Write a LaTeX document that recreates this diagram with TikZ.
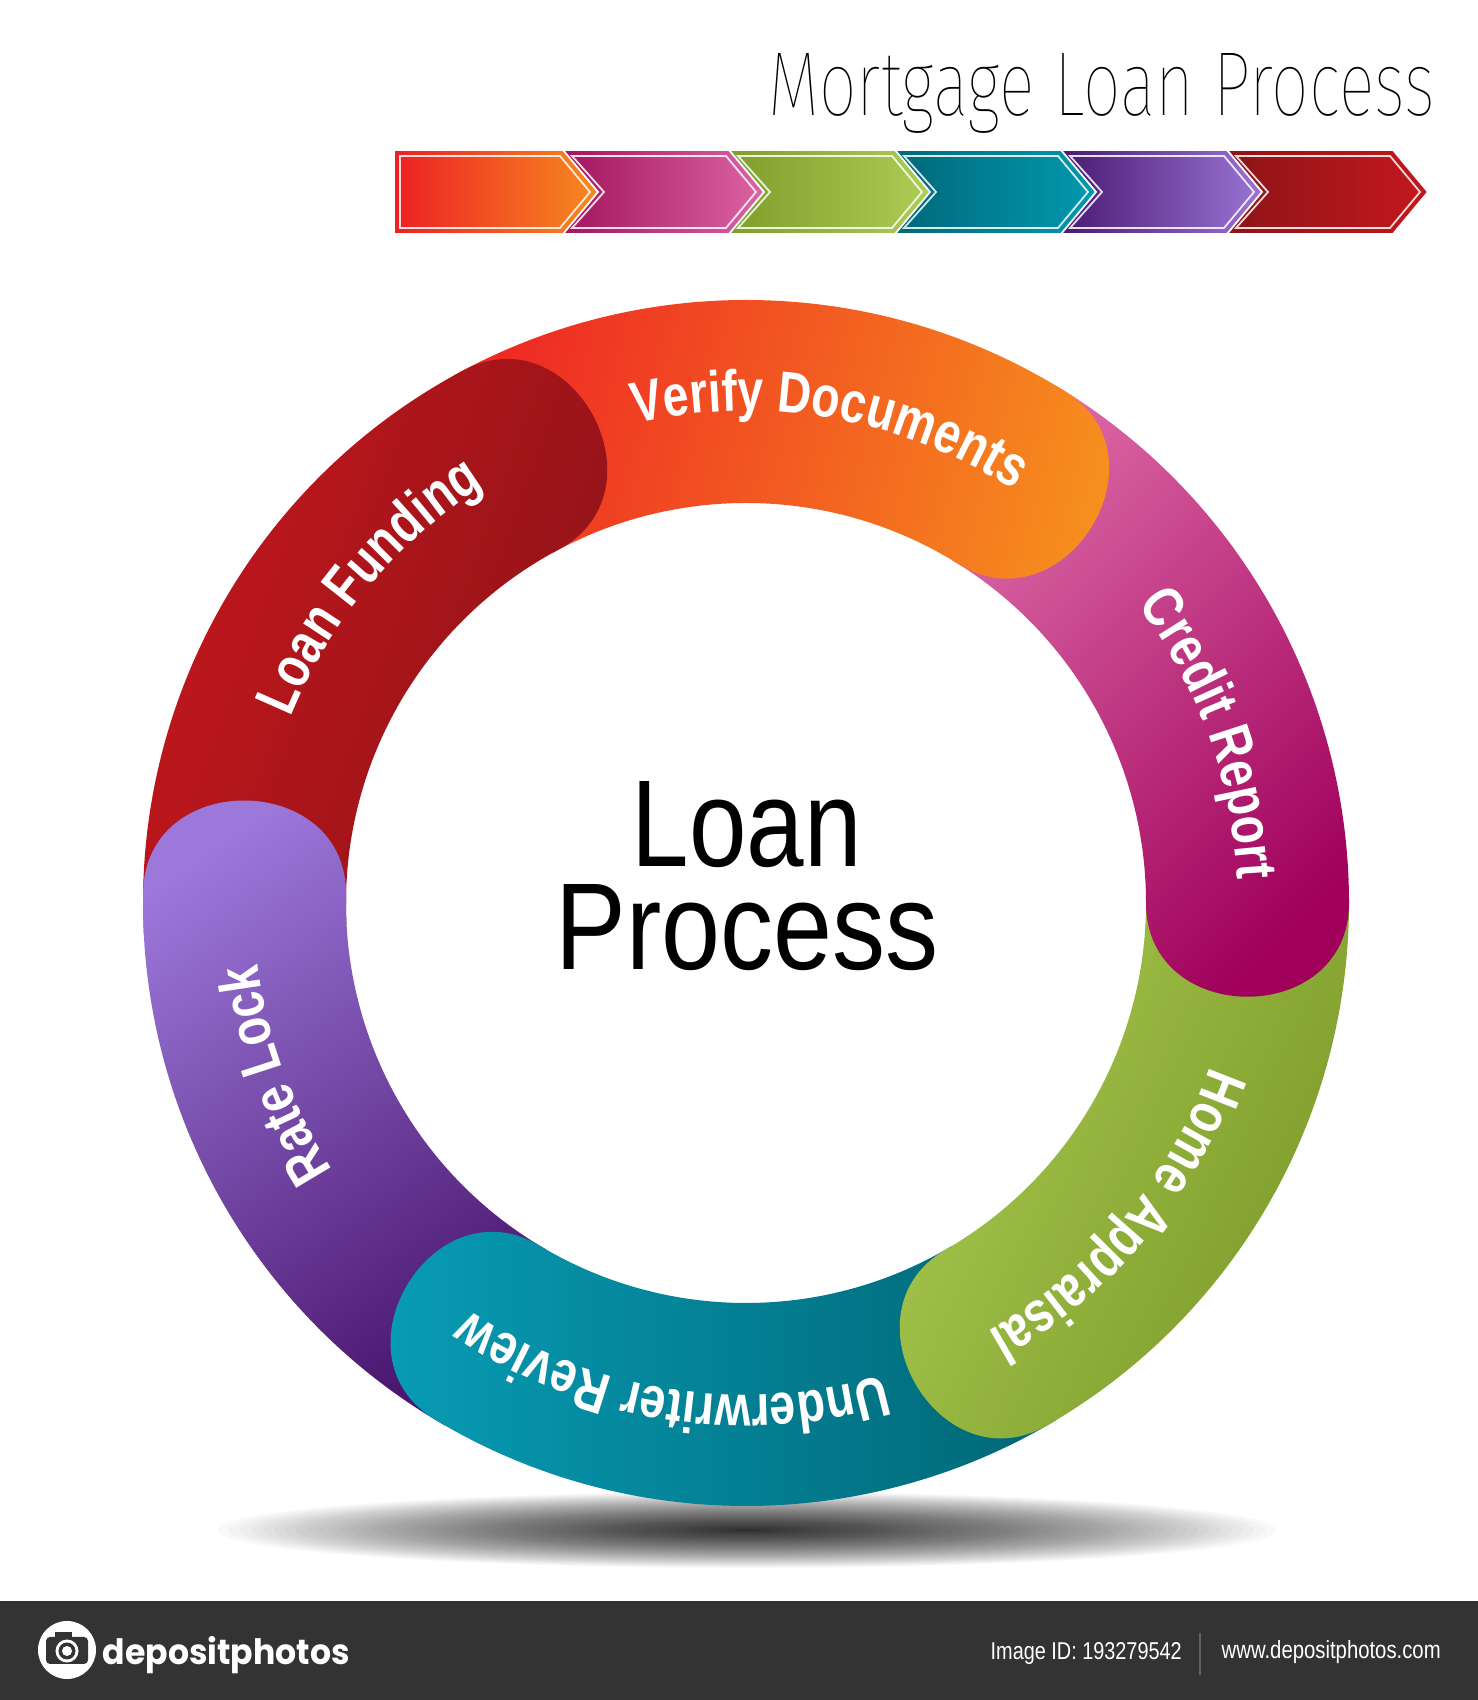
\documentclass[tikz,border=0pt]{standalone}
\usepackage{graphicx}
\usepackage{fontspec}
\setmainfont{Liberation Sans}
\newfontfamily\labfam[FakeStretch=0.8]{Liberation Sans}
\IfFontExistsTF{Fira Sans Thin}{\newfontfamily\thinfam{Fira Sans Thin}}{%
 \IfFontExistsTF{Lato Hairline}{\newfontfamily\thinfam{Lato Hairline}}{%
  \IfFontExistsTF{Fira Sans ExtraLight}{\newfontfamily\thinfam{Fira Sans ExtraLight}}{%
   \IfFontExistsTF{Lato Light}{\newfontfamily\thinfam{Lato Light}}{%
    \IfFontExistsTF{Fira Sans Light}{\newfontfamily\thinfam{Fira Sans Light}}{%
     \newfontfamily\thinfam{Liberation Sans}}}}}}
\newfontfamily\logofam{Poppins}
\usetikzlibrary{calc,decorations.text}
\newcommand\labfont{\labfam\bfseries\fontsize{16.5pt}{20pt}\selectfont}
% colours
\definecolor{barbg}{HTML}{333333}
\definecolor{lfL}{HTML}{C4171D}\definecolor{lfR}{HTML}{8A1317}
\definecolor{vdL}{HTML}{EE2A24}\definecolor{vdR}{HTML}{F7941D}
\definecolor{crL}{HTML}{DA66A5}\definecolor{crR}{HTML}{A0005A}
\definecolor{haL}{HTML}{AACC52}\definecolor{haR}{HTML}{7A9828}
\definecolor{urL}{HTML}{08A0BA}\definecolor{urR}{HTML}{006675}
\definecolor{rlL}{HTML}{9C78DB}\definecolor{rlR}{HTML}{4A166E}
\definecolor{chaL}{HTML}{ED2024}\definecolor{chaR}{HTML}{F68B1F}
\definecolor{chbL}{HTML}{A3145F}\definecolor{chbR}{HTML}{DC64A5}
\definecolor{chcL}{HTML}{7E9D2A}\definecolor{chcR}{HTML}{ADCD55}
\definecolor{chdL}{HTML}{00687A}\definecolor{chdR}{HTML}{0299AF}
\definecolor{cheL}{HTML}{4A1A72}\definecolor{cheR}{HTML}{9A74D5}
\definecolor{chfL}{HTML}{8D1417}\definecolor{chfR}{HTML}{C4181D}
\def\ringRo{6.03}
\def\ringRi{4.00}
\def\ringBul{1.25}
% ring segment: #1 tail angle, #2 head angle (clockwise)
\newcommand\segpath[2]{($(C)+(#1:\ringRo)$) arc[start angle=#1, end angle=#2, radius=\ringRo]
  .. controls +(#2-90:\ringBul) and +(#2-90:\ringBul) .. ($(C)+(#2:\ringRi)$)
  arc[start angle=#2, end angle=#1, radius=\ringRi] -- cycle}
% left color sits at angle (shading angle + 90)
\tikzset{
  lfsh/.style={left color=lfL, right color=lfR, shading angle=70},
  vdsh/.style={left color=vdL, right color=vdR, shading angle=75},
  crsh/.style={left color=crL, right color=crR, shading angle=45},
  hash/.style={left color=haL, right color=haR, shading angle=65},
  ursh/.style={left color=urL, right color=urR, shading angle=90},
  rlsh/.style={left color=rlL, right color=rlR, shading angle=35},
  chev/.style={draw=white, line width=0.5pt},
  chevline/.style={draw=white, line width=0.5pt, opacity=0.85},
  shadowlayer/.style={fill=black, opacity=0.024},
  ringlabel/.style={decorate, decoration={text along path, text align=center, text color=white, text={|\labfont|#1}}}
}
\begin{document}
\begin{tikzpicture}
\useasboundingbox (0,0) rectangle (14.78,17);
\fill[white] (0,0) rectangle (14.78,17);

% ---- title
\node[anchor=base west, inner sep=0] (title) at (7.68,15.84)
  {\resizebox{6.66cm}{0.62cm}{\thinfam Mortgage Loan Process}};

% ---- chevron bar (drawn right to left)
\foreach \L/\B/\cl/\cr/\notch in {12.27/13.93/chfL/chfR/1, 10.61/12.27/cheL/cheR/1, 8.95/10.61/chdL/chdR/1, 7.29/8.95/chcL/chcR/1, 5.63/7.29/chbL/chbR/1, 3.94/5.63/chaL/chaR/0}{
  \shade[chev, left color=\cl, right color=\cr]
    (\L,15.50) -- (\B,15.50) -- ($(\B,15.08)+(0.35,0)$) -- (\B,14.66) -- (\L,14.66) -- cycle;
  \ifnum\notch=1
    \draw[chevline] ($(\L,15.44)+(0.09,0)$) -- ($(\B,15.44)+(-0.03,0)$) -- ($(\B,15.08)+(0.27,0)$)
      -- ($(\B,14.72)+(-0.03,0)$) -- ($(\L,14.72)+(0.09,0)$) -- ($(\L,15.08)+(0.41,0)$) -- cycle;
  \else
    \draw[chevline] ($(\L,15.44)+(0.06,0)$) -- ($(\B,15.44)+(-0.03,0)$) -- ($(\B,15.08)+(0.27,0)$)
      -- ($(\B,14.72)+(-0.03,0)$) -- ($(\L,14.72)+(0.06,0)$) -- cycle;
  \fi
}

% ---- shadow under the ring (stacked translucent ellipses)
\coordinate (C) at (7.46,7.97);
\foreach \i in {1,...,60}{
  \fill[shadowlayer] (7.47,1.70) ellipse ({5.3*(\i/60)^1.3} and {0.38*(\i/60)^1.3});
}

% ---- ring
\shade[rlsh] \segpath{-120}{-181};
\shade[ursh] \segpath{-59}{-121};
\shade[hash] \segpath{1}{-60};
\shade[crsh] \segpath{59}{0};
\shade[vdsh] \segpath{119}{58};
\shade[lfsh] \segpath{180}{118};
\begin{scope}
  \clip (C) -- ($(C)+(183:7.5)$) -- ($(C)+(150:7.5)$) -- cycle;
  \shade[rlsh] \segpath{-120}{-181};
\end{scope}

% ---- ring labels (clockwise, tops outward)
\path[ringlabel={Loan Funding}] ($(C)+(185:4.92)$) arc[start angle=185, end angle=95, radius=4.92];
\path[ringlabel={Verify Documents}] ($(C)+(125:4.92)$) arc[start angle=125, end angle=35, radius=4.92];
\path[ringlabel={Credit Report}] ($(C)+(65:4.92)$) arc[start angle=65, end angle=-25, radius=4.92];
\path[ringlabel={Home Appraisal}] ($(C)+(5:4.92)$) arc[start angle=5, end angle=-85, radius=4.92];
\path[ringlabel={Underwriter Review}] ($(C)+(-54:4.92)$) arc[start angle=-54, end angle=-144, radius=4.92];
\path[ringlabel={Rate Lock}] ($(C)+(-115:4.92)$) arc[start angle=-115, end angle=-205, radius=4.92];

% ---- centre text
\node[anchor=base, inner sep=0] (loan) at (7.47,8.33) {\resizebox{2.30cm}{0.85cm}{Loan}};
\node[anchor=base, inner sep=0] (process) at (7.47,7.30) {\resizebox{3.83cm}{0.85cm}{Process}};

% ---- bottom bar
\fill[barbg] (0,0) rectangle (14.78,0.99);
\fill[white] (0.67,0.50) circle (0.29);
\fill[barbg, rounded corners=0.04cm] (0.46,0.36) rectangle (0.88,0.63);
\fill[barbg] (0.55,0.60) rectangle (0.72,0.68);
\fill[white] (0.67,0.49) circle (0.115);
\fill[barbg] (0.67,0.49) circle (0.085);
\fill[white] (0.67,0.49) circle (0.05);
\node[anchor=base west, inner sep=0, text=white] (logotext) at (1.02,0.35)
  {\resizebox{2.47cm}{0.28cm}{\logofam\bfseries depositphotos}};
\node[anchor=base west, inner sep=0, text=white] (imgid) at (9.90,0.41)
  {\resizebox{1.91cm}{0.17cm}{Image ID: 193279542}};
\draw[gray!60!barbg, line width=0.6pt] (12.00,0.25) -- (12.00,0.67);
\node[anchor=base west, inner sep=0, text=white] (www) at (12.21,0.41)
  {\resizebox{2.19cm}{0.18cm}{www.depositphotos.com}};
\end{tikzpicture}
\end{document}
